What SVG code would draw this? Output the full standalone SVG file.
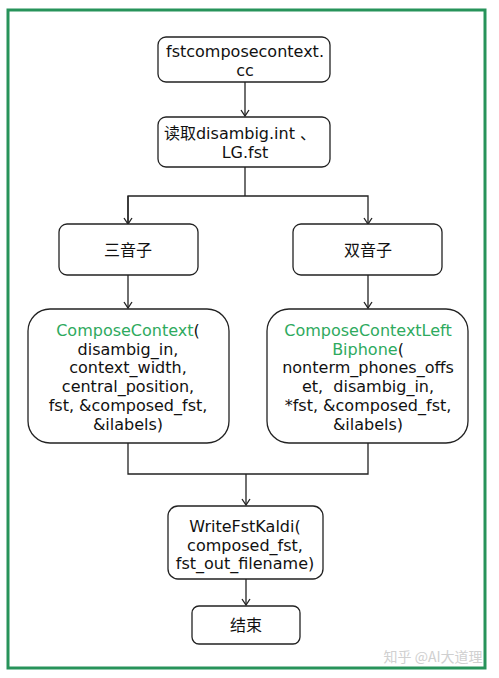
<svg xmlns="http://www.w3.org/2000/svg" width="499" height="678" viewBox="0 0 499 678">
<defs>
<style>
.node{fill:#fff;stroke:#222;stroke-width:1.3}
.t{font-family:"DejaVu Sans","Noto Sans CJK SC",sans-serif;font-size:16px;fill:#111;text-anchor:middle}
.g{fill:#2eaa5e}
.c{fill:none;stroke:#222;stroke-width:1.3}
</style>
<marker id="v" markerWidth="12" markerHeight="12" refX="6" refY="10" markerUnits="userSpaceOnUse" viewBox="0 0 12 12" orient="0">
<polyline points="2,4 6,10 10,4" fill="none" stroke="#222" stroke-width="1.3"/>
</marker>
</defs>
<rect width="499" height="678" fill="#fff"/>
<rect x="8" y="10" width="477" height="658" fill="none" stroke="#27935a" stroke-width="3"/>
<g id="connectors">
<line class="c" x1="245" y1="82" x2="245" y2="116" marker-end="url(#v)"/>
<polyline class="c" points="245,167 245,196"/>
<polyline class="c" points="128,224 128,196 368,196 368,224" marker-end="url(#v)"/>
<line class="c" x1="128" y1="196" x2="128" y2="224" marker-end="url(#v)"/>
<line class="c" x1="128" y1="275" x2="128" y2="308" marker-end="url(#v)"/>
<line class="c" x1="368" y1="275" x2="368" y2="308" marker-end="url(#v)"/>
<polyline class="c" points="128,443 128,474 368,474 368,443"/>
<line class="c" x1="246" y1="474" x2="246" y2="505" stroke-width="2" marker-end="url(#v)"/>
<line class="c" x1="246" y1="579" x2="246" y2="605" marker-end="url(#v)"/>
</g>
<g id="n1">
<rect class="node" x="158" y="37" width="172" height="45" rx="8"/>
<text class="t" x="245" y="57">fstcomposecontext.</text>
<text class="t" x="245" y="76">cc</text>
</g>
<g id="n2">
<rect class="node" x="158" y="117" width="172" height="50" rx="8"/>
<text class="t" x="240" y="139">读取disambig.int 、</text>
<text class="t" x="245" y="158">LG.fst</text>
</g>
<g id="n3">
<rect class="node" x="59" y="224" width="139" height="51" rx="8"/>
<text class="t" x="128" y="256">三音子</text>
</g>
<g id="n4">
<rect class="node" x="293" y="224" width="149" height="51" rx="8"/>
<text class="t" x="368" y="256">双音子</text>
</g>
<g id="n5">
<rect class="node" x="28" y="309" width="201" height="134" rx="22"/>
<text class="t" x="128" y="336"><tspan class="g">ComposeContext</tspan>(</text>
<text class="t" x="128" y="355">disambig_in,</text>
<text class="t" x="128" y="373">context_width,</text>
<text class="t" x="128" y="392">central_position,</text>
<text class="t" x="128" y="411">fst, &amp;composed_fst,</text>
<text class="t" x="128" y="430">&amp;ilabels)</text>
</g>
<g id="n6">
<rect class="node" x="267" y="309" width="201" height="134" rx="22"/>
<text class="t g" x="368" y="336">ComposeContextLeft</text>
<text class="t" x="368" y="355"><tspan class="g">Biphone</tspan>(</text>
<text class="t" x="368" y="373">nonterm_phones_offs</text>
<text class="t" x="368" y="392">et,&#160; disambig_in,</text>
<text class="t" x="368" y="411">*fst, &amp;composed_fst,</text>
<text class="t" x="368" y="430">&amp;ilabels)</text>
</g>
<g id="n7">
<rect class="node" x="168" y="506" width="155" height="73" rx="10"/>
<text class="t" x="245" y="532">WriteFstKaldi(</text>
<text class="t" x="245" y="551">composed_fst,</text>
<text class="t" x="245" y="569">fst_out_filename)</text>
</g>
<g id="n8">
<rect class="node" x="192" y="606" width="108" height="38" rx="7"/>
<text class="t" x="246" y="631">结束</text>
</g>
<text x="433" y="662" font-family="Noto Sans CJK SC,sans-serif" font-size="14" fill="#d0d0d0" text-anchor="middle">知乎 @AI大道理</text>
</svg>
